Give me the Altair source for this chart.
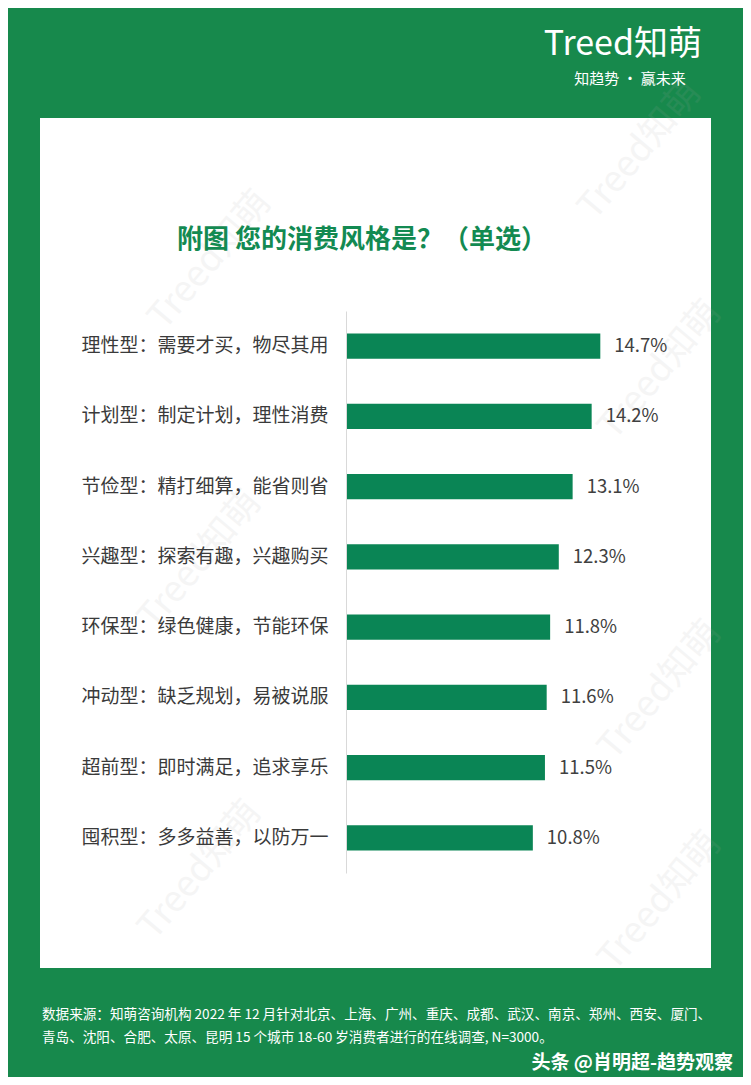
import altair as alt
import pandas as pd

categories = [
    "理性型：需要才买，物尽其用",
    "计划型：制定计划，理性消费",
    "节俭型：精打细算，能省则省",
    "兴趣型：探索有趣，兴趣购买",
    "环保型：绿色健康，节能环保",
    "冲动型：缺乏规划，易被说服",
    "超前型：即时满足，追求享乐",
    "囤积型：多多益善，以防万一",
]
values = [14.7, 14.2, 13.1, 12.3, 11.8, 11.6, 11.5, 10.8]

title_text = "附图 您的消费风格是？（单选）"
logo_text = "Treed知萌"
slogan_text = "知趋势 · 赢未来"
footer_1 = "数据来源：知萌咨询机构 2022 年 12 月针对北京、上海、广州、重庆、成都、武汉、南京、郑州、西安、厦门、"
footer_2 = "青岛、沈阳、合肥、太原、昆明 15 个城市 18-60 岁消费者进行的在线调查, N=3000。"
credit_text = "头条 @肖明超-趋势观察"

FONT = "Noto Sans CJK SC"
BG = "#17894c"
BAR = "#0a8555"
TITLE_C = "#138a52"

df = pd.DataFrame({"category": categories, "value": values})
one = alt.Data(values=[{}])


def deco_text(text, x, y, size, color, align="left", weight="normal", angle=0, opacity=1.0):
    return alt.Chart(one).mark_text(
        text=text, fontSize=size, font=FONT, color=color, align=align,
        baseline="middle", fontWeight=weight, angle=angle, opacity=opacity,
    ).encode(x=alt.value(x), y=alt.value(y))


panel = alt.Chart(one).mark_rect(color="white").encode(
    x=alt.value(-306), x2=alt.value(365), y=alt.value(-193), y2=alt.value(657)
)

# faint diagonal watermarks (page coords minus plot origin 346, 311)
wm_spots = [(-136, -51), (294, -161), (314, 59), (-146, 249), (314, 379), (-146, 559), (314, 590)]
watermarks = [
    deco_text(logo_text, x, y, 36, "#a8a8a8", align="center", angle=310, opacity=0.11)
    for x, y in wm_spots
]

y_enc = alt.Y(
    "category:N",
    sort=categories,
    scale=alt.Scale(paddingInner=0.64, paddingOuter=0.32),
    axis=alt.Axis(
        title=None, ticks=False, labelPadding=18, labelFontSize=19, labelFont=FONT,
        labelColor="#3a3a3a", domainColor="#d9d9d9", domainWidth=1, labelLimit=400,
        zindex=1,
    ),
)
x_enc = alt.X("value:Q", scale=alt.Scale(domain=[0, 20]), axis=None)

bars = alt.Chart(df).mark_bar(color=BAR).encode(x=x_enc, y=y_enc)
labels = alt.Chart(df).transform_calculate(
    label="format(datum.value, '.1f') + '%'"
).mark_text(align="left", baseline="middle", dx=14, fontSize=18.5, font=FONT, color="#404040").encode(
    x=x_enc, y=y_enc, text="label:N"
)

layers = [panel] + watermarks + [
    bars,
    labels,
    deco_text(title_text, 16, -71, 26, TITLE_C, align="center", weight="bold"),
    deco_text(logo_text, 356, -266, 34, "white", align="right"),
    deco_text(slogan_text, 284, -232, 15, "white", align="center"),
    deco_text(footer_1, -304, 704, 13.6, "white", weight=400),
    deco_text(footer_2, -304, 727, 13.6, "white", weight=400),
    deco_text(credit_text, 387, 752, 19, "white", align="right", weight="bold"),
]

chart = alt.layer(*layers).properties(
    width=346,
    height=562,
    background=BG,
    padding={"left": 338, "top": 303, "right": 51, "bottom": 204},
    autosize=alt.AutoSizeParams(type="none"),
).configure_view(stroke=None)

chart.save("out.html", embed_options={"renderer": "svg", "actions": False})
